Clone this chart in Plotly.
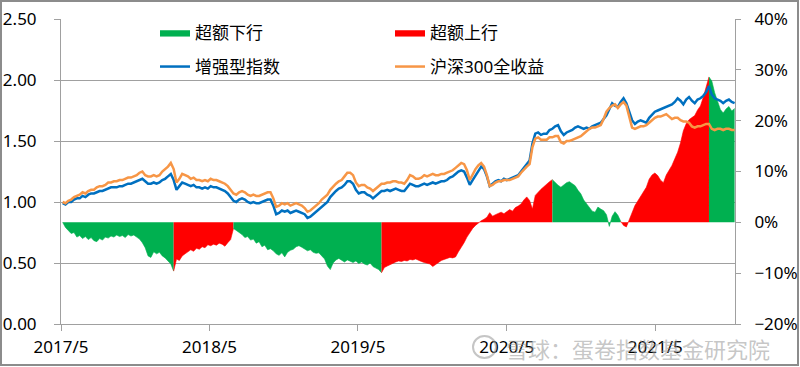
import pandas as pd
import plotly.graph_objects as go

# ---------------- data ----------------
dates = pd.date_range("2017-05-05", periods=237, freq="7D")

enhanced = [
    0.99, 0.98, 1.00, 1.00, 1.02, 1.03, 1.03, 1.05, 1.04, 1.06,
    1.07, 1.07, 1.08, 1.09, 1.09, 1.10, 1.11, 1.12, 1.12, 1.12,
    1.13, 1.13, 1.14, 1.15, 1.15, 1.16, 1.17, 1.18, 1.19, 1.17,
    1.15, 1.15, 1.16, 1.15, 1.16, 1.18, 1.19, 1.21, 1.23, 1.18,
    1.10, 1.13, 1.16, 1.15, 1.14, 1.13, 1.14, 1.12, 1.12, 1.11,
    1.12, 1.11, 1.13, 1.12, 1.12, 1.11, 1.10, 1.09, 1.07, 1.04,
    1.01, 1.00, 1.02, 1.03, 1.02, 1.00, 0.99, 1.00, 0.99, 0.99,
    1.00, 1.01, 1.02, 1.02, 0.97, 0.90, 0.91, 0.93, 0.92, 0.93,
    0.91, 0.92, 0.93, 0.92, 0.91, 0.90, 0.87, 0.88, 0.90, 0.92,
    0.94, 0.96, 0.98, 1.00, 1.04, 1.07, 1.09, 1.11, 1.12, 1.14,
    1.17, 1.17, 1.15, 1.10, 1.07, 1.08, 1.08, 1.06, 1.05, 1.03,
    1.05, 1.07, 1.09, 1.09, 1.10, 1.09, 1.10, 1.11, 1.10, 1.09,
    1.09, 1.12, 1.15, 1.14, 1.13, 1.13, 1.14, 1.15, 1.14, 1.15,
    1.16, 1.15, 1.16, 1.17, 1.17, 1.18, 1.20, 1.21, 1.23, 1.25,
    1.26, 1.25, 1.20, 1.14, 1.18, 1.22, 1.26, 1.29, 1.27, 1.21,
    1.13, 1.15, 1.17, 1.18, 1.17, 1.19, 1.18, 1.19, 1.20, 1.21,
    1.22, 1.25, 1.28, 1.31, 1.34, 1.48, 1.56, 1.57, 1.55, 1.56,
    1.56, 1.59, 1.60, 1.62, 1.63, 1.58, 1.55, 1.57, 1.58, 1.59,
    1.61, 1.62, 1.61, 1.60, 1.61, 1.60, 1.62, 1.63, 1.64, 1.65,
    1.68, 1.71, 1.76, 1.81, 1.79, 1.78, 1.82, 1.85, 1.81, 1.74,
    1.67, 1.64, 1.66, 1.67, 1.66, 1.65, 1.69, 1.72, 1.74, 1.75,
    1.76, 1.77, 1.78, 1.79, 1.80, 1.82, 1.85, 1.83, 1.80, 1.84,
    1.86, 1.83, 1.81, 1.84, 1.85, 1.87, 1.90, 1.95, 1.88, 1.85,
    1.84, 1.83, 1.81, 1.83, 1.84, 1.82, 1.81,
]

csi300_tr = [
    1.00, 0.99, 1.01, 1.02, 1.04, 1.05, 1.06, 1.08, 1.07, 1.09,
    1.10, 1.10, 1.12, 1.13, 1.13, 1.14, 1.16, 1.16, 1.17, 1.17,
    1.18, 1.18, 1.19, 1.20, 1.20, 1.21, 1.22, 1.24, 1.25, 1.22,
    1.21, 1.21, 1.22, 1.21, 1.22, 1.25, 1.27, 1.29, 1.32, 1.27,
    1.16, 1.19, 1.23, 1.22, 1.21, 1.19, 1.20, 1.18, 1.18, 1.17,
    1.18, 1.17, 1.19, 1.18, 1.18, 1.17, 1.16, 1.15, 1.13, 1.10,
    1.07, 1.06, 1.08, 1.09, 1.08, 1.06, 1.05, 1.06, 1.05, 1.05,
    1.06, 1.07, 1.08, 1.08, 1.03, 0.96, 0.97, 0.99, 0.98, 0.99,
    0.97, 0.98, 0.99, 0.98, 0.97, 0.95, 0.92, 0.93, 0.95, 0.97,
    0.99, 1.02, 1.04, 1.06, 1.10, 1.13, 1.15, 1.17, 1.18, 1.21,
    1.24, 1.24, 1.22, 1.16, 1.13, 1.14, 1.14, 1.12, 1.11, 1.09,
    1.11, 1.13, 1.15, 1.15, 1.16, 1.16, 1.17, 1.17, 1.16, 1.16,
    1.15, 1.18, 1.22, 1.21, 1.19, 1.19, 1.20, 1.22, 1.21, 1.22,
    1.23, 1.22, 1.22, 1.23, 1.23, 1.24, 1.25, 1.26, 1.28, 1.30,
    1.32, 1.31, 1.26, 1.18, 1.23, 1.27, 1.30, 1.32, 1.29, 1.22,
    1.13, 1.14, 1.16, 1.17, 1.17, 1.18, 1.18, 1.18, 1.19, 1.20,
    1.21, 1.24, 1.27, 1.29, 1.31, 1.45, 1.52, 1.53, 1.51, 1.51,
    1.51, 1.53, 1.53, 1.54, 1.54, 1.49, 1.48, 1.50, 1.50, 1.51,
    1.52, 1.53, 1.54, 1.56, 1.58, 1.60, 1.61, 1.61, 1.62, 1.63,
    1.68, 1.74, 1.77, 1.79, 1.80, 1.77, 1.80, 1.82, 1.79, 1.70,
    1.61, 1.60, 1.61, 1.62, 1.62, 1.63, 1.65, 1.67, 1.69, 1.70,
    1.70, 1.71, 1.72, 1.70, 1.68, 1.69, 1.69, 1.67, 1.66, 1.66,
    1.65, 1.62, 1.61, 1.62, 1.62, 1.63, 1.64, 1.64, 1.60, 1.59,
    1.60, 1.60, 1.59, 1.60, 1.60, 1.59, 1.59,
]

excess_pct = [
    0.0, -1.0, -1.6, -2.2, -2.0, -2.9, -2.6, -3.2, -2.8, -3.4,
    -3.0, -3.6, -3.8, -3.2, -3.5, -2.9, -3.1, -2.7, -2.9, -2.5,
    -2.8, -2.6, -3.0, -2.4, -2.7, -2.5, -2.9, -3.3, -4.0, -5.0,
    -6.6, -6.9, -5.8, -6.2, -5.9, -6.6, -7.0, -7.6, -8.2, -9.6,
    -7.2, -7.5, -6.6, -6.2, -5.8, -5.4, -5.7, -5.1, -5.3, -4.8,
    -5.0, -4.4, -4.6, -4.3, -4.5, -4.1, -4.3, -4.7, -4.0, -3.4,
    -1.2, -1.6, -2.0, -2.4, -3.0, -2.8, -3.5, -3.3, -4.1, -3.8,
    -4.8, -4.5, -5.4, -5.2, -5.6, -6.2, -6.5, -6.0, -6.8, -5.9,
    -5.5, -5.3, -4.8, -4.6, -4.9, -5.3, -5.6, -5.4, -5.9, -6.1,
    -6.0, -6.6, -7.2, -8.6, -9.3, -8.0, -7.4, -7.1, -7.5, -7.8,
    -7.4, -7.7, -7.9, -7.6, -8.1, -7.8, -8.2, -8.4, -8.0, -8.7,
    -9.0, -9.3, -9.9, -8.9, -8.6, -8.3, -8.0, -7.8, -7.6, -7.7,
    -7.5, -7.6, -7.3, -7.4, -7.2, -7.5, -7.7, -7.9, -8.0, -8.2,
    -8.7, -8.3, -7.9, -7.5, -7.3, -7.1, -6.9, -7.0, -6.8, -5.8,
    -5.0, -4.0, -2.9, -2.0, -1.2, -0.6, -0.1, 0.3, 0.6, 1.0,
    1.9, 1.2, 1.5, 1.8, 2.0, 1.7, 2.1, 2.5, 2.2, 2.9,
    3.2, 3.6, 4.4, 5.0, 4.3, 2.6, 5.3, 6.0, 6.5, 7.0,
    7.6, 8.0, 8.4, 7.8, 7.3, 6.9, 7.4, 7.8, 8.0, 7.6,
    7.2, 6.3, 5.6, 4.4, 3.6, 2.8, 2.2, 2.0, 3.0, 2.6,
    2.3, 1.5, -0.8, 1.2, 2.1, 1.4, 0.2, -0.6, -0.9, 0.4,
    1.8, 3.3, 4.2, 5.1, 6.2, 6.9, 8.5, 9.3, 9.7, 9.2,
    8.3, 7.8, 9.3, 10.2, 11.2, 12.5, 13.8, 15.6, 18.0, 19.4,
    20.2, 20.6, 21.0, 22.1, 22.9, 24.6, 26.5, 28.6, 27.8, 25.5,
    23.6, 22.2, 21.5, 22.3, 22.8, 21.9, 22.4,
]

# turning points of the excess return (trough/peak dates)
turning_dates = ["2018-02-02", "2018-06-29", "2019-06-28",
                 "2020-08-21", "2021-02-05", "2021-09-10"]

tick_dates = ["2017-05-01", "2018-05-01", "2019-05-01", "2020-05-01", "2021-05-01"]
tick_text = ["2017/5", "2018/5", "2019/5", "2020/5", "2021/5"]

# ---------------- styles ----------------
GREEN = "#00B050"
RED = "#FF0000"
BLUE = "#0070C0"
ORANGE = "#F79646"
GRID = "#A0A0A0"
FONT = "Noto Sans, Noto Sans CJK SC, sans-serif"

df = pd.DataFrame({"date": dates, "enh": enhanced, "csi": csi300_tr, "exc": excess_pct})

fig = go.Figure()

bounds = [df["date"].iloc[0]] + [pd.Timestamp(d) for d in turning_dates] + [df["date"].iloc[-1]]
shown = {"down": False, "up": False}
for k in range(len(bounds) - 1):
    kind = "down" if k % 2 == 0 else "up"
    seg = df[(df["date"] >= bounds[k]) & (df["date"] <= bounds[k + 1])]
    color = GREEN if kind == "down" else RED
    name = "超额下行" if kind == "down" else "超额上行"
    fig.add_trace(go.Scatter(
        x=seg["date"], y=seg["exc"], yaxis="y", mode="lines",
        fill="tozeroy", fillcolor=color, line=dict(width=0.6, color=color),
        name=name, legendgroup=kind, showlegend=not shown[kind], legend="legend",
        hoverinfo="skip",
    ))
    shown[kind] = True

fig.add_trace(go.Scatter(x=df["date"], y=df["enh"], yaxis="y2", mode="lines",
                         line=dict(color=BLUE, width=2.5), name="增强型指数", legend="legend2"))
fig.add_trace(go.Scatter(x=df["date"], y=df["csi"], yaxis="y2", mode="lines",
                         line=dict(color=ORANGE, width=2.5), name="沪深300全收益", legend="legend2"))

L, R, T, B = 61, 65, 19, 43
W, H = 800, 367
pw, ph = W - L - R, H - T - B


def px_x(p):
    return (p - L) / pw


def px_y(p):
    return (H - B - p) / ph


fig.update_layout(
    width=W, height=H,
    margin=dict(l=L, r=R, t=T, b=B, autoexpand=False),
    paper_bgcolor="white", plot_bgcolor="white",
    font=dict(family=FONT, size=17, color="black"),
    xaxis=dict(type="date", range=["2017-05-01", "2021-11-13"],
               tickvals=tick_dates, ticktext=tick_text,
               ticks="outside", ticklen=6, tickcolor=GRID,
               showline=True, linecolor=GRID, linewidth=1, automargin=False,
               showgrid=False, zeroline=False, ticklabelstandoff=2),
    yaxis=dict(side="right", range=[-20, 40], dtick=10, ticksuffix="%",
               ticks="outside", ticklen=5, tickcolor=GRID, automargin=False,
               showline=True, linecolor=GRID, showgrid=False, zeroline=False,
               ticklabelstandoff=10),
    yaxis2=dict(side="left", overlaying="y", range=[0, 2.5], dtick=0.5, tickformat=".2f",
                ticks="outside", ticklen=6, tickcolor=GRID, automargin=False,
                showline=True, linecolor=GRID, showgrid=True, gridcolor=GRID, gridwidth=1,
                zeroline=False, ticklabelstandoff=14),
    legend=dict(orientation="h", x=px_x(155), xanchor="left", y=px_y(33), yanchor="middle",
                entrywidth=190, bgcolor="rgba(0,0,0,0)", font=dict(size=17)),
    legend2=dict(orientation="h", x=px_x(155), xanchor="left", y=px_y(67), yanchor="middle",
                 entrywidth=190, bgcolor="rgba(0,0,0,0)", font=dict(size=17)),
    showlegend=True,
)

# watermark
fig.add_annotation(text="雪球：蛋卷指数基金研究院", xref="paper", yref="paper",
                   x=px_x(504), y=px_y(349), xanchor="left", yanchor="middle",
                   showarrow=False, font=dict(size=22, color="rgba(150,150,150,0.55)"))
fig.add_shape(type="circle", xref="paper", yref="paper",
              x0=px_x(473), x1=px_x(496), y0=px_y(358), y1=px_y(336),
              line=dict(color="rgba(150,150,150,0.55)", width=2))

# outer frame
fig.add_shape(type="rect", xref="paper", yref="paper",
              x0=px_x(1), x1=px_x(798), y0=px_y(365), y1=px_y(1),
              line=dict(color="#8C8C8C", width=2), layer="above")

fig.write_html("out.html", config={"displayModeBar": False},
               post_script="document.body.style.margin='0';document.body.style.overflow='hidden';")
